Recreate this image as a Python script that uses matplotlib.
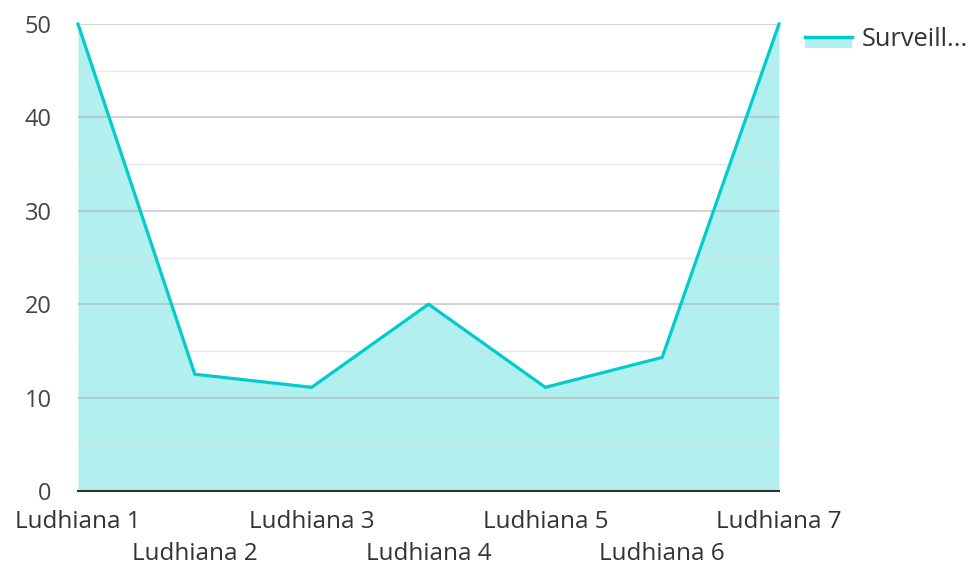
import matplotlib.pyplot as plt
from matplotlib.patches import Rectangle
from matplotlib.lines import Line2D
from matplotlib.legend_handler import HandlerBase

plt.rcParams['font.family'] = ['Open Sans', 'DejaVu Sans']

# Data
categories = ['Ludhiana 1', 'Ludhiana 2', 'Ludhiana 3', 'Ludhiana 4',
              'Ludhiana 5', 'Ludhiana 6', 'Ludhiana 7']
values = [50, 12.5, 11.1, 20, 11.1, 14.3, 50]
series_name = 'Surveill...'
y_ticks = [0, 10, 20, 30, 40, 50]

line_color = '#00cccc'
fill_color = '#b2efef'


class AreaHandler(HandlerBase):
    # line on top, filled band underneath, like the area legend swatch
    def create_artists(self, legend, orig_handle, xdescent, ydescent,
                       width, height, fontsize, trans):
        mid = height / 2 - ydescent
        rect = Rectangle((-xdescent, mid - height * 0.6), width, height * 0.6,
                         facecolor=fill_color, edgecolor='none', transform=trans)
        line = Line2D([-xdescent, -xdescent + width], [mid, mid],
                      color=line_color, linewidth=2.5, transform=trans)
        return [rect, line]


fig = plt.figure(figsize=(9.69, 5.65), dpi=100)
ax = fig.add_axes([78 / 969, 1 - 491 / 565, (779 - 78) / 969, (491 - 24) / 565])

x = list(range(len(categories)))
ax.fill_between(x, values, 0, color=fill_color, linewidth=0, zorder=1)
ax.plot(x, values, color=line_color, linewidth=2.3, zorder=3, clip_on=False)

# Gridlines
for yv in range(5, 50, 10):
    ax.axhline(yv, color='#d8d8d8', linewidth=1, alpha=0.6, zorder=2)
for yv in y_ticks[1:]:
    ax.axhline(yv, color='#a8a8a8', linewidth=1.2, alpha=0.6, zorder=2)

ax.set_xlim(0, len(categories) - 1)
ax.set_ylim(0, 50)
ax.set_yticks(y_ticks)
ax.set_yticklabels([str(v) for v in y_ticks], fontsize=17, color='#444444')
ax.set_xticks(x)
labels = [c if i % 2 == 0 else '\n' + c for i, c in enumerate(categories)]
ax.set_xticklabels(labels, fontsize=17.5, color='#333333', linespacing=1.4)
ax.tick_params(axis='y', length=0, pad=19)
ax.tick_params(axis='x', length=0, pad=14)

for s in ['left', 'right', 'top']:
    ax.spines[s].set_visible(False)
ax.spines['bottom'].set_color('#333333')
ax.spines['bottom'].set_linewidth(1.5)
ax.spines['bottom'].set_zorder(4)

fig.legend([object()], [series_name], handler_map={object: AreaHandler()},
           loc='upper left', bbox_to_anchor=(805 / 969, 1 - 27 / 565),
           borderaxespad=0, borderpad=0, labelcolor='#333333',
           frameon=False, fontsize=18.3, handlelength=1.85, handletextpad=0.4)

fig.savefig('out.png', dpi=100)
